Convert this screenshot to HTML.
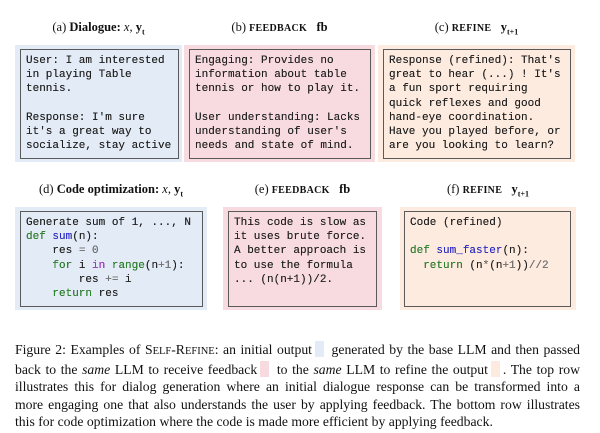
<!DOCTYPE html>
<html><head><style>
body{margin:0;width:600px;height:433px;background:#fff;position:relative;overflow:hidden;font-family:"Liberation Serif",serif;color:#111}
.t{position:absolute;font-size:12.5px;white-space:nowrap;text-align:center}
.sc{font-weight:bold;font-size:10px;letter-spacing:0.3px}
.o{position:absolute}
.i{position:absolute;border:1.5px solid #5a5a5a;font-family:"Liberation Mono",monospace;font-size:11px;line-height:14.2px;white-space:pre;padding:4px 0 0 5px;box-sizing:border-box;color:#222;text-shadow:0 0 0.3px #222}
.b{background:#e3ebf6}.p{background:#f8dbe0}.r{background:#fdebdf}
.g{color:#2a8a2a}.bl{color:#2b2bdb}.m{color:#b030d0}.gr{color:#777}
.cap{position:absolute;left:15px;top:341px;width:565px;font-size:13.7px;line-height:17.5px}
.cap div{text-align:justify;text-align-last:justify;white-space:nowrap}
.cap div.l{text-align-last:left}
.sw{display:inline-block;width:9px;height:16px;vertical-align:-3px;margin:0 3px}
</style></head><body>
<div class="t" style="left:15px;width:167px;top:20px">(a) <b>Dialogue:</b> <i>x</i>, <b>y<sub style="font-size:8px">t</sub></b></div>
<div class="t" style="left:184px;width:191px;top:20px">(b) <span class="sc">FEEDBACK</span> &nbsp; <b>fb</b></div>
<div class="t" style="left:378px;width:197px;top:20px">(c) <span class="sc">REFINE</span> &nbsp; <b>y<sub style="font-size:8px">t+1</sub></b></div>

<div class="o b" style="left:15px;top:45px;width:167px;height:117px"></div>
<div class="i b" style="left:20px;top:49px;width:159px;height:110px">User: I am interested
in playing Table
tennis.

Response: I'm sure
it's a great way to
socialize, stay active</div>
<div class="o p" style="left:184px;top:45px;width:191px;height:117px"></div>
<div class="i p" style="left:189px;top:49px;width:182px;height:110px">Engaging: Provides no
information about table
tennis or how to play it.

User understanding: Lacks
understanding of user's
needs and state of mind.</div>
<div class="o r" style="left:378px;top:45px;width:197px;height:117px"></div>
<div class="i r" style="left:383px;top:49px;width:188px;height:110px">Response (refined): That's
great to hear (...) ! It's
a fun sport requiring
quick reflexes and good
hand-eye coordination.
Have you played before, or
are you looking to learn?</div>

<div class="t" style="left:15px;width:192px;top:182px">(d) <b>Code optimization:</b> <i>x</i>, <b>y<sub style="font-size:8px">t</sub></b></div>
<div class="t" style="left:223px;width:159px;top:182px">(e) <span class="sc">FEEDBACK</span> &nbsp; <b>fb</b></div>
<div class="t" style="left:400px;width:176px;top:182px">(f) <span class="sc">REFINE</span> &nbsp; <b>y<sub style="font-size:8px">t+1</sub></b></div>

<div class="o b" style="left:15px;top:207px;width:192px;height:103px"></div>
<div class="i b" style="left:20px;top:211px;width:183px;height:96px">Generate sum of 1, ..., N
<span class="g">def</span> <span class="bl">sum</span>(n):
    res <span class="gr">= 0</span>
    <span class="g">for</span> i <span class="m">in</span> <span class="g">range</span>(n<span class="gr">+1</span>):
        res <span class="gr">+=</span> i
    <span class="g">return</span> res</div>
<div class="o p" style="left:223px;top:207px;width:159px;height:103px"></div>
<div class="i p" style="left:228px;top:211px;width:149px;height:96px">This code is slow as
it uses brute force.
A better approach is
to use the formula
... (n(n+1))/2.</div>
<div class="o r" style="left:400px;top:207px;width:176px;height:103px"></div>
<div class="i r" style="left:404px;top:211px;width:167px;height:96px">Code (refined)

<span class="g">def</span> <span class="bl">sum_faster</span>(n):
  <span class="g">return</span> (n<span class="gr">*</span>(n<span class="gr">+1</span>))<span class="gr">//2</span></div>

<div class="cap">
<div>Figure 2: Examples of S<span style="font-size:10.5px">ELF</span>-R<span style="font-size:10.5px">EFINE</span>: an initial output<span class="sw" style="background:#e3ebf6"></span> generated by the base LLM and then passed</div>
<div>back to the <i>same</i> LLM to receive feedback<span class="sw" style="background:#f8dbe0"></span> to the <i>same</i> LLM to refine the output<span class="sw" style="background:#fdebdf"></span>. The top row</div>
<div>illustrates this for dialog generation where an initial dialogue response can be transformed into a</div>
<div>more engaging one that also understands the user by applying feedback. The bottom row illustrates</div>
<div class="l">this for code optimization where the code is made more efficient by applying feedback.</div>
</div>
</body></html>
